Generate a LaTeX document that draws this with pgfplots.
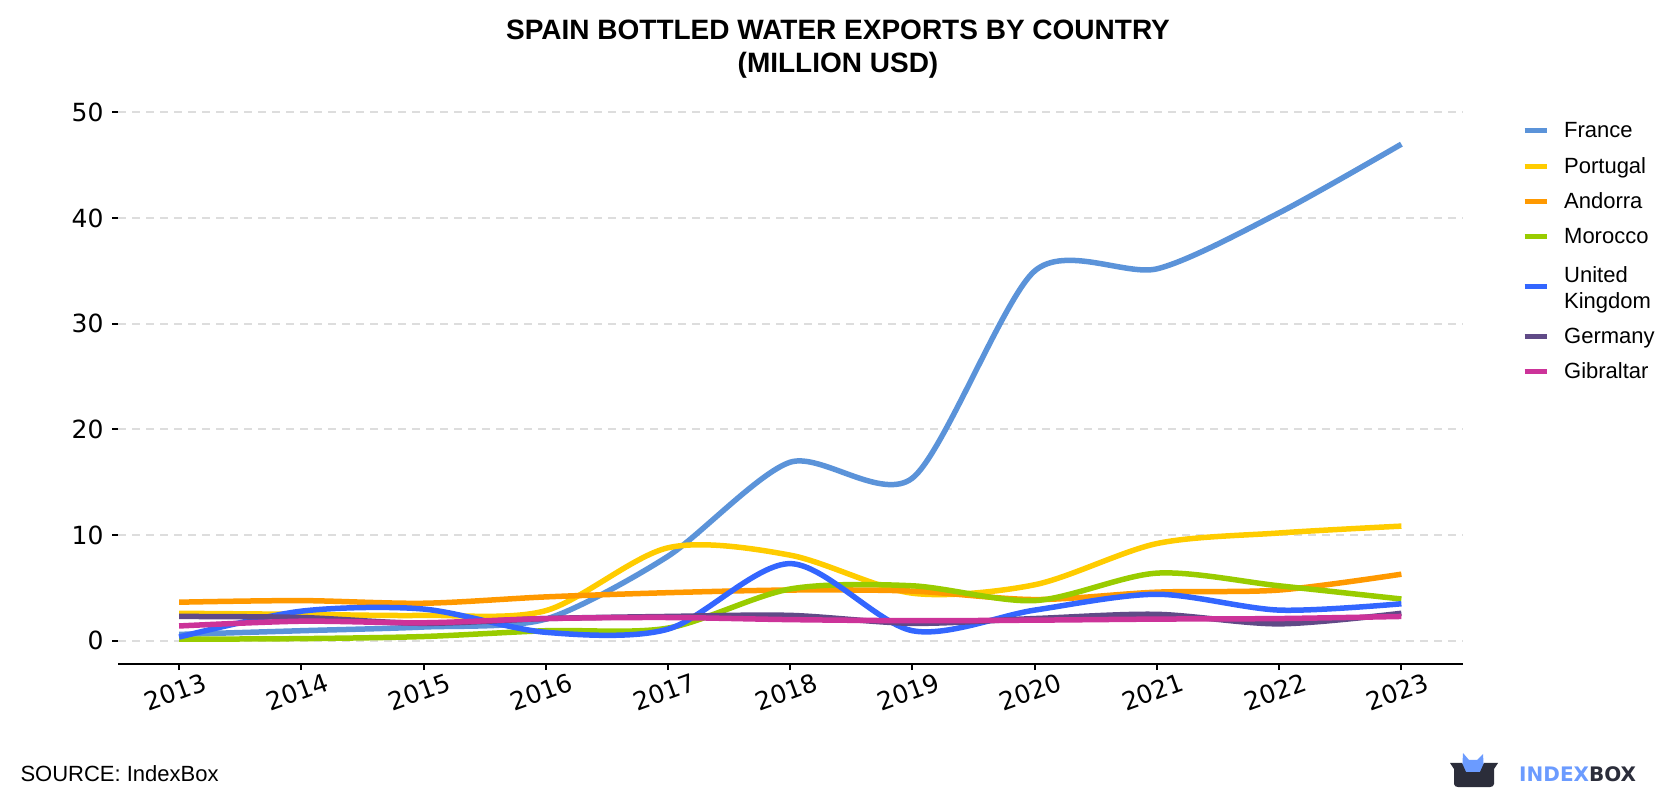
\documentclass[border=0pt]{standalone}
\usepackage{pgfplots}
\pgfplotsset{compat=1.18}
\usepackage{fontspec}
\setmainfont{Liberation Sans}
\newfontfamily\logofont{DejaVu Sans}
\newfontfamily\tickfont{DejaVu Sans}

\definecolor{cFrance}{HTML}{5B93D9}
\definecolor{cPortugal}{HTML}{FFCC00}
\definecolor{cAndorra}{HTML}{FF9900}
\definecolor{cMorocco}{HTML}{99CC00}
\definecolor{cUK}{HTML}{3366FF}
\definecolor{cGermany}{HTML}{604A87}
\definecolor{cGibraltar}{HTML}{CC3399}
\definecolor{gridgray}{HTML}{DDDDDD}
\definecolor{logoblue}{HTML}{6B9BFF}
\definecolor{logodark}{HTML}{2B2D3A}

\begin{document}
\begin{tikzpicture}[x=1pt,y=1pt]
\path[use as bounding box] (0,0) rectangle (1680,800);

% title
\node[font=\fontsize{28}{32}\selectfont\bfseries] at (838,770) {SPAIN BOTTLED WATER EXPORTS BY COUNTRY};
\node[font=\fontsize{28}{32}\selectfont\bfseries] at (838,735) {(MILLION USD)};

\begin{axis}[
  at={(118pt,136pt)}, anchor=south west,
  scale only axis, width=1344.5pt, height=562.1pt,
  xmin=2012.5, xmax=2023.5, ymin=-2.2, ymax=51,
  axis lines*=left,
  y axis line style={draw=none},
  x axis line style={line width=2.5pt},
  xtick={2013,...,2023}, ytick={0,10,...,50},
  ymajorgrids,
  grid style={gridgray, line width=2pt, dash pattern=on 8pt off 6pt},
  major tick length=6pt, tick align=outside,
  tick style={black, line width=2pt},
  /pgf/number format/assume math mode=true,
  /pgf/number format/1000 sep={},
  tick label style={font=\tickfont\fontsize{25}{28}\selectfont},
  xticklabel style={xshift=-4pt, yshift=-22pt, rotate=20, anchor=center},
  yticklabel style={xshift=-5pt},
  legend cell align=left,
  legend style={draw=none, fill=none, at={(1.042,0.967)}, anchor=north west,
    font=\fontsize{22}{25.7}\selectfont, row sep=18pt,
    nodes={align=left, inner sep=0pt, outer sep=0pt}},
  legend image code/.code={\draw[#1, line width=5pt] (0pt,0pt) -- (22pt,0pt);},
  every axis plot/.append style={line width=5.5pt, smooth, no marks},
]
\addplot[cFrance, tension=0.45] coordinates {(2013,0.6) (2014,0.95) (2015,1.3) (2016,2.05) (2017,8.0) (2018,16.9) (2019,15.4) (2020,35.0) (2021,35.2) (2022,40.5) (2023,47.0)};
\addlegendentry{\hspace{15pt}France}
\addplot[cPortugal] coordinates {(2013,2.6) (2014,2.5) (2015,2.4) (2016,2.85) (2017,8.8) (2018,8.1) (2019,4.5) (2020,5.3) (2021,9.2) (2022,10.2) (2023,10.85)};
\addlegendentry{\hspace{15pt}Portugal}
\addplot[cAndorra] coordinates {(2013,3.65) (2014,3.8) (2015,3.55) (2016,4.15) (2017,4.55) (2018,4.8) (2019,4.7) (2020,3.9) (2021,4.6) (2022,4.8) (2023,6.3)};
\addlegendentry{\hspace{15pt}Andorra}
\addplot[cMorocco] coordinates {(2013,0.15) (2014,0.2) (2015,0.4) (2016,0.95) (2017,1.2) (2018,4.9) (2019,5.2) (2020,3.8) (2021,6.4) (2022,5.2) (2023,3.95)};
\addlegendentry{\hspace{15pt}Morocco}
\addplot[cUK] coordinates {(2013,0.35) (2014,2.8) (2015,3.0) (2016,0.8) (2017,1.1) (2018,7.3) (2019,0.95) (2020,2.9) (2021,4.4) (2022,2.9) (2023,3.5)};
\addlegendentry{\hspace{15pt}\rule{0pt}{20pt}United\\\hspace{15pt}Kingdom\rule[-11pt]{0pt}{0pt}}
\addplot[cGermany] coordinates {(2013,2.3) (2014,2.2) (2015,1.65) (2016,2.1) (2017,2.3) (2018,2.4) (2019,1.65) (2020,2.1) (2021,2.5) (2022,1.6) (2023,2.6)};
\addlegendentry{\hspace{15pt}Germany}
\addplot[cGibraltar] coordinates {(2013,1.4) (2014,1.85) (2015,1.7) (2016,2.1) (2017,2.2) (2018,2.0) (2019,1.9) (2020,1.95) (2021,2.05) (2022,2.1) (2023,2.3)};
\addlegendentry{\hspace{15pt}Gibraltar}
\end{axis}

% footer
\node[anchor=west, font=\fontsize{22}{26}\selectfont] at (17,26) {SOURCE: IndexBox};
\fill[logoblue] (1462,28) -- (1463,47) -- (1469,40) -- (1477,40) -- (1483,46) -- (1484,28) -- cycle;
\fill[logodark] (1450,37) -- (1462,37) -- (1466,28) -- (1480,28) -- (1484,37) -- (1498,37)
  -- (1494,31) -- (1494,16) to[out=-90,in=0] (1490,13) -- (1458,13) to[out=180,in=-90] (1454,16) -- (1454,31) -- cycle;
\node[anchor=west, font=\logofont\bfseries\fontsize{20}{24}\selectfont, inner sep=0pt] at (1519,26)
  {\textcolor{logoblue}{INDEX}\textcolor{logodark}{BOX}};
\end{tikzpicture}
\end{document}
